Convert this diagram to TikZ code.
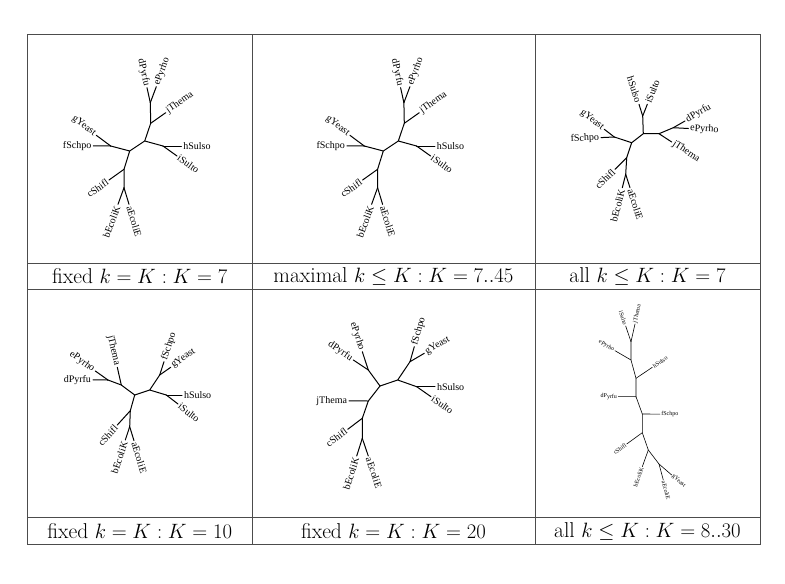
\documentclass[tikz,border=0pt]{standalone}
\usepackage{fontspec}
\usepackage{amssymb}
\newfontfamily\labfont{Liberation Serif}
\begin{document}
\begin{tikzpicture}[x=1pt,y=-1pt,
  br/.style={line width=1pt,line cap=round},
  brs/.style={line width=0.6pt,line cap=round},
  lr/.style={pos=1,sloped,anchor=west,inner sep=1.5pt,font=\labfont\fontsize{10}{10}\selectfont},
  ll/.style={pos=1,sloped,anchor=east,inner sep=1.5pt,font=\labfont\fontsize{10}{10}\selectfont},
  slr/.style={pos=1,sloped,anchor=west,inner sep=1pt,font=\labfont\fontsize{6}{6}\selectfont},
  sll/.style={pos=1,sloped,anchor=east,inner sep=1pt,font=\labfont\fontsize{6}{6}\selectfont},
  captxt/.style={font=\fontsize{21.5}{24}\selectfont},
  tframe/.style={draw=black!70,line width=0.8pt}]
\useasboundingbox (0,0) rectangle (785,584);
% table
\draw[tframe] (27.7,34.3) rectangle (760,544);
\draw[tframe] (252,34.3) -- (252,544) (535,34.3) -- (535,544);
\draw[tframe] (27.7,263) -- (760,263) (27.7,289) -- (760,289) (27.7,517) -- (760,517);
% captions
\node[captxt] (c1) at (139.8,276.5) {fixed $k=K:K=7$};
\node[captxt] (c2) at (393.5,276.5) {maximal $k\leq K:K=7..45$};
\node[captxt] (c3) at (647.5,276.5) {all $k\leq K:K=7$};
\node[captxt] (c4) at (139.8,531) {fixed $k=K:K=10$};
\node[captxt] (c5) at (393.5,531) {fixed $k=K:K=20$};
\node[captxt] (c6) at (647.5,531) {all $k\leq K:K=8..30$};
% panels 1 and 2 (same tree)
\foreach \sx/\pf in {0/a,253.6/b}{
\begin{scope}[xshift=\sx]
\coordinate (\pf n1) at (129.7,151);
\coordinate (\pf n2) at (144.7,141);
\coordinate (\pf n3) at (150.7,123.3);
\coordinate (\pf n4) at (150.3,102.7);
\coordinate (\pf n5) at (163,146);
\coordinate (\pf n6) at (110.7,146);
\coordinate (\pf n7) at (124,169.3);
\coordinate (\pf n8) at (124,187.7);
\draw[br] (\pf n1)--(\pf n2)--(\pf n3)--(\pf n4) (\pf n2)--(\pf n5) (\pf n1)--(\pf n6) (\pf n1)--(\pf n7)--(\pf n8);
\draw[br] (\pf n4)-- node[ll] (\pf d) {dPyrfu} (147,87.7);
\draw[br] (\pf n4)-- node[lr] (\pf e) {ePyrho} (156.3,86.7);
\draw[br] (\pf n3)-- node[lr] (\pf j) {jThema} (165.7,112.7);
\draw[br] (\pf n5)-- node[lr] (\pf h) {hSulso} (181.3,146);
\draw[br] (\pf n5)-- node[lr] (\pf i) {iSulto} (177,156);
\draw[br] (\pf n6)-- node[ll] (\pf f) {fSchpo} (93.3,145.9);
\draw[br] (\pf n6)-- node[ll] (\pf g) {gYeast} (96.3,135.3);
\draw[br] (\pf n7)-- node[ll] (\pf c) {cShifl} (109,180);
\draw[br] (\pf n8)-- node[ll] (\pf bk) {bEcoliK} (118,204.3);
\draw[br] (\pf n8)-- node[lr] (\pf ae) {aEcoliE} (129,204.3);
\end{scope}}
% panel 3
\coordinate (cn1) at (631.7,142.7);
\coordinate (cn2) at (643.3,133.7);
\coordinate (cn3) at (642.7,116);
\coordinate (cn4) at (659,133.7);
\coordinate (cn5) at (673.3,127.7);
\coordinate (cn6) at (614.3,137);
\coordinate (cn7) at (626.7,157.7);
\coordinate (cn8) at (625.7,174.3);
\draw[br] (cn1)--(cn2)--(cn3) (cn2)--(cn4)--(cn5) (cn1)--(cn6) (cn1)--(cn7)--(cn8);
\draw[br] (cn3)-- node[ll] (ch) {hSulso} (639,104.3);
\draw[br] (cn3)-- node[lr] (ci) {iSulto} (647.3,104.3);
\draw[br] (cn4)-- node[lr] (cj) {jThema} (671.7,142);
\draw[br] (cn5)-- node[lr] (cd) {dPyrfu} (685,121);
\draw[br] (cn5)-- node[lr] (ce) {ePyrho} (688.3,128.5);
\draw[br] (cn6)-- node[ll] (cf) {fSchpo} (601,137.6);
\draw[br] (cn6)-- node[ll] (cg) {gYeast} (604.3,129.3);
\draw[br] (cn7)-- node[ll] (cc) {cShifl} (615,169.3);
\draw[br] (cn8)-- node[ll] (cbk) {bEcoliK} (622.3,187.7);
\draw[br] (cn8)-- node[lr] (cae) {aEcoliE} (630,187.7);
% panel 4
\coordinate (dn1) at (134.7,395);
\coordinate (dn2) at (149.7,390);
\coordinate (dn3) at (159.7,375);
\coordinate (dn4) at (166.3,395);
\coordinate (dn5) at (121.3,385);
\coordinate (dn6) at (108,380);
\coordinate (dn7) at (130.3,410.7);
\coordinate (dn8) at (129.7,426.7);
\draw[br] (dn1)--(dn2)--(dn3) (dn2)--(dn4) (dn1)--(dn5)--(dn6) (dn1)--(dn7)--(dn8);
\draw[br] (dn3)-- node[lr] (df) {fSchpo} (164,361.7);
\draw[br] (dn3)-- node[lr] (dg) {gYeast} (170.7,367.3);
\draw[br] (dn4)-- node[lr] (dh) {hSulso} (182,395);
\draw[br] (dn4)-- node[lr] (di) {iSulto} (178,404);
\draw[br] (dn5)-- node[ll] (dj) {jThema} (117.3,367.3);
\draw[br] (dn6)-- node[ll] (dd) {dPyrfu} (93,379.9);
\draw[br] (dn6)-- node[ll] (de) {ePyrho} (95.3,371);
\draw[br] (dn7)-- node[ll] (dc) {cShifl} (117.3,425);
\draw[br] (dn8)-- node[ll] (dbk) {bEcoliK} (125.3,440);
\draw[br] (dn8)-- node[lr] (dae) {aEcoliE} (134,440.7);
% panel 5
\coordinate (en1) at (380,386);
\coordinate (en2) at (397.7,380);
\coordinate (en3) at (410,361.7);
\coordinate (en4) at (416.7,386.7);
\coordinate (en5) at (368.3,370);
\coordinate (en6) at (368.3,401);
\coordinate (en7) at (362.3,418.3);
\coordinate (en8) at (362.3,438.3);
\draw[br] (en1)--(en2)--(en3) (en2)--(en4) (en1)--(en5) (en1)--(en6)--(en7)--(en8);
\draw[br] (en3)-- node[lr] (ef) {fSchpo} (414.3,346.7);
\draw[br] (en3)-- node[lr] (eg) {gYeast} (424.3,353.3);
\draw[br] (en4)-- node[lr] (eh) {hSulso} (435,386.7);
\draw[br] (en4)-- node[lr] (ei) {iSulto} (431,396.7);
\draw[br] (en5)-- node[ll] (ed) {dPyrfu} (353.3,360);
\draw[br] (en5)-- node[ll] (ee) {ePyrho} (362.3,351.7);
\draw[br] (en6)-- node[ll] (ej) {jThema} (349,400.9);
\draw[br] (en7)-- node[ll] (ec) {cShifl} (347.7,429.3);
\draw[br] (en8)-- node[ll] (ebk) {bEcoliK} (356.7,456);
\draw[br] (en8)-- node[lr] (eae) {aEcoliE} (368.3,456);
% panel 6
\coordinate (t1) at (631,341.7);
\coordinate (t2) at (631,360);
\coordinate (t3) at (636,378.3);
\coordinate (t4) at (636,396.7);
\coordinate (t5) at (642.3,414);
\coordinate (t6) at (642.3,432.7);
\coordinate (t7) at (648.3,450);
\coordinate (t8) at (659,464);
\draw[brs] (t1)--(t2)--(t3)--(t4)--(t5)--(t6)--(t7)--(t8);
\draw[brs] (t1)-- node[sll] (fi) {iSulto} (625.7,326);
\draw[brs] (t1)-- node[slr] (fj) {jThema} (635,324);
\draw[brs] (t2)-- node[sll] (fe) {ePyrho} (615,350.7);
\draw[brs] (t3)-- node[slr] (fh) {hSulso} (652.3,367.3);
\draw[brs] (t4)-- node[sll] (fd) {dPyrfu} (618.3,396.6);
\draw[brs] (t5)-- node[slr] (ff) {fSchpo} (660,414.1);
\draw[brs] (t6)-- node[sll] (fc) {cShifl} (626.7,444);
\draw[brs] (t7)-- node[sll] (fbk) {bEcoliK} (642.3,466.7);
\draw[brs] (t8)-- node[slr] (fg) {gYeast} (671.7,475);
\draw[brs] (t8)-- node[slr] (fae) {aEcoliE} (663.3,480);
\end{tikzpicture}
\end{document}
